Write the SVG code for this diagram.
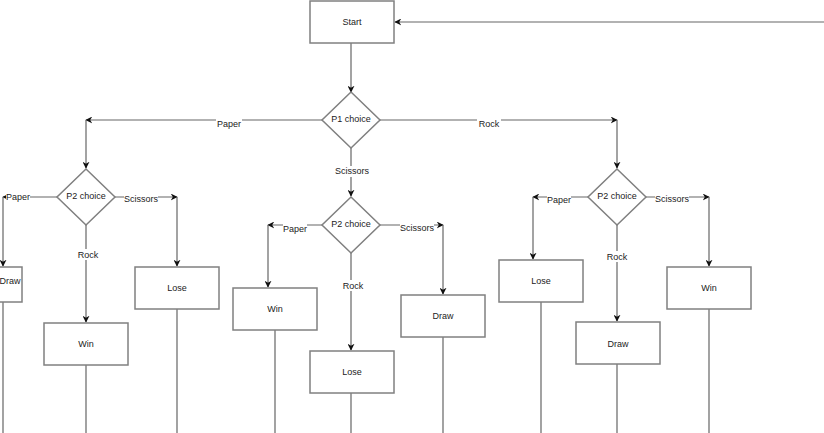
<svg xmlns="http://www.w3.org/2000/svg" width="824" height="433" viewBox="0 0 824 433">
<style>
.n{fill:#fff;stroke:#808080;stroke-width:1.5}
.t{font-family:"Liberation Sans",Arial,sans-serif;font-size:9px;fill:#222;text-anchor:middle;dominant-baseline:central}
.c path{fill:none;stroke:#666;stroke-width:1.2}
.lb{fill:#fff}
</style>
<defs><marker id="a" viewBox="0 0 10 10" refX="9" refY="5" markerWidth="7" markerHeight="7" orient="auto" markerUnits="userSpaceOnUse"><path d="M0,0L10,5L0,10L3,5z" fill="#111"/></marker></defs>
<rect width="824" height="433" fill="#fff"/>
<g class="c">
<path d="M824,22H395" marker-end="url(#a)"/>
<path d="M351,43V92" marker-end="url(#a)"/>
<path d="M322,120H86" marker-end="url(#a)"/><path d="M86,120V168" marker-end="url(#a)"/>
<path d="M380,120H617" marker-end="url(#a)"/><path d="M617,120V168" marker-end="url(#a)"/>
<path d="M351,148V196" marker-end="url(#a)"/>
<path d="M57,197H3" marker-end="url(#a)"/><path d="M3,197V266" marker-end="url(#a)"/>
<path d="M115,197H177" marker-end="url(#a)"/><path d="M177,197V266" marker-end="url(#a)"/>
<path d="M86,225V322" marker-end="url(#a)"/>
<path d="M322,225H268" marker-end="url(#a)"/><path d="M268,225V287" marker-end="url(#a)"/>
<path d="M380,225H443" marker-end="url(#a)"/><path d="M443,225V294" marker-end="url(#a)"/>
<path d="M351,253V350" marker-end="url(#a)"/>
<path d="M588,197H533" marker-end="url(#a)"/><path d="M533,197V259" marker-end="url(#a)"/>
<path d="M646,197H709" marker-end="url(#a)"/><path d="M709,197V266" marker-end="url(#a)"/>
<path d="M617,225V321" marker-end="url(#a)"/>
<path d="M3,302V433M86,365V433M177,309V433M275,330V433M351,393V433M443,337V433M541,302V433M617,364V433M709,309V433"/>
</g>
<g id="labels">
<rect class="lb" x="216" y="118" width="26" height="11"/><text class="t" x="229" y="124">Paper</text>
<rect class="lb" x="477" y="118" width="24" height="11"/><text class="t" x="489" y="124">Rock</text>
<rect class="lb" x="334" y="166" width="36" height="11"/><text class="t" x="352" y="171">Scissors</text>
<rect class="lb" x="6" y="192" width="24" height="11"/><text class="t" x="18" y="197">Paper</text>
<rect class="lb" x="124" y="194" width="34" height="11"/><text class="t" x="141" y="199">Scissors</text>
<rect class="lb" x="76" y="249" width="22" height="11"/><text class="t" x="88" y="255">Rock</text>
<rect class="lb" x="283" y="223" width="24" height="11"/><text class="t" x="295" y="229">Paper</text>
<rect class="lb" x="400" y="222" width="34" height="11"/><text class="t" x="417" y="228">Scissors</text>
<rect class="lb" x="342" y="280" width="22" height="11"/><text class="t" x="353" y="286">Rock</text>
<rect class="lb" x="547" y="194" width="24" height="11"/><text class="t" x="559" y="200">Paper</text>
<rect class="lb" x="655" y="193" width="34" height="11"/><text class="t" x="672" y="199">Scissors</text>
<rect class="lb" x="606" y="251" width="22" height="11"/><text class="t" x="617" y="257">Rock</text>
</g>
<g id="start"><rect class="n" x="310" y="1" width="84" height="42"/><text class="t" x="352" y="22">Start</text></g>
<g id="p1"><path class="n" d="M351,92L380,120L351,148L322,120Z"/><text class="t" x="351" y="119">P1 choice</text></g>
<g id="p2a"><path class="n" d="M86,169L115,197L86,225L57,197Z"/><text class="t" x="86" y="196">P2 choice</text></g>
<g id="p2b"><path class="n" d="M351,197L380,225L351,253L322,225Z"/><text class="t" x="351" y="224">P2 choice</text></g>
<g id="p2c"><path class="n" d="M617,169L646,197L617,225L588,197Z"/><text class="t" x="617" y="196">P2 choice</text></g>
<g id="drawA"><rect class="n" x="-40" y="267" width="62" height="35"/><text class="t" x="10" y="281">Draw</text></g>
<g id="winA"><rect class="n" x="44" y="323" width="84" height="42"/><text class="t" x="86" y="344">Win</text></g>
<g id="loseA"><rect class="n" x="135" y="267" width="84" height="42"/><text class="t" x="177" y="288">Lose</text></g>
<g id="winB"><rect class="n" x="233" y="288" width="84" height="42"/><text class="t" x="275" y="309">Win</text></g>
<g id="loseB"><rect class="n" x="310" y="351" width="84" height="42"/><text class="t" x="352" y="372">Lose</text></g>
<g id="drawB"><rect class="n" x="401" y="295" width="84" height="42"/><text class="t" x="443" y="316">Draw</text></g>
<g id="loseC"><rect class="n" x="499" y="260" width="84" height="42"/><text class="t" x="541" y="281">Lose</text></g>
<g id="drawC"><rect class="n" x="576" y="322" width="84" height="42"/><text class="t" x="618" y="344">Draw</text></g>
<g id="winC"><rect class="n" x="667" y="267" width="84" height="42"/><text class="t" x="709" y="288">Win</text></g>
</svg>
